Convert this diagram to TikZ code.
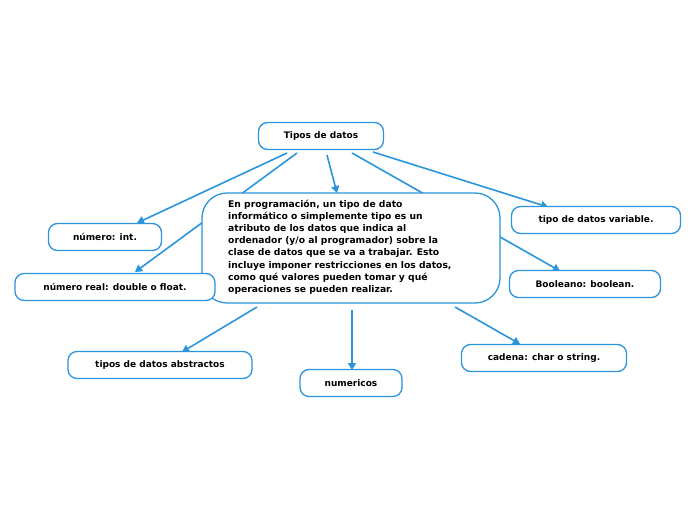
\documentclass[tikz,border=0pt]{standalone}
\usepackage{fontspec}
\setmainfont{DejaVu Sans}
\usetikzlibrary{arrows.meta}
\definecolor{bl}{HTML}{2A95DC}
\begin{document}
\begin{tikzpicture}[x=1pt,y=-1pt,
  box/.style={draw=bl,line width=1.3pt,fill=white,rounded corners=9pt,font=\bfseries\fontsize{9}{11}\selectfont,inner sep=0pt},
  con/.style={draw=bl,line width=1.6pt,-{Triangle[length=7pt,width=8pt]}}]
\useasboundingbox (0,0) rectangle (696,520);
\coordinate (s1) at (287,153);
\coordinate (s2) at (297,153);
\coordinate (s3) at (327,155);
\coordinate (s4) at (352,153);
\coordinate (s5) at (373,152);
\coordinate (c1) at (257,307);
\coordinate (c2) at (352,310);
\coordinate (c3) at (455,307);
\coordinate (t1) at (137,223);
\coordinate (t2) at (135,272);
\coordinate (t3) at (337,193);
\coordinate (t4) at (560,271);
\coordinate (t5) at (548,207);
\coordinate (t6) at (182,352);
\coordinate (t7) at (352,370);
\coordinate (t8) at (520,344);
\draw[con] (s1) -- (t1);
\draw[con] (s2) -- (t2);
\draw[con] (s4) -- (t4);
\draw[con] (s5) -- (t5);
\node[box,minimum width=125pt,minimum height=27pt] (tipos) at (321,136) {Tipos de datos};
\node[box,minimum width=298pt,minimum height=110pt,rounded corners=25pt] (central) at (351,248) {};
\node[font=\bfseries\fontsize{9.2}{12.1}\selectfont,align=left,anchor=north west,inner sep=0pt] (ctext) at (228,200) {En programación, un tipo de dato\\informático o simplemente tipo es un\\atributo de los datos que indica al\\ordenador (y/o al programador) sobre la\\clase de datos que se va a trabajar. Esto\\incluye imponer restricciones en los datos,\\como qué valores pueden tomar y qué\\operaciones se pueden realizar.};
\draw[con] (s3) -- (t3);
\draw[con] (c1) -- (t6);
\draw[con] (c2) -- (t7);
\draw[con] (c3) -- (t8);
\node[box,minimum width=113pt,minimum height=27pt] (n1) at (105,237) {número: int.};
\node[box,minimum width=200pt,minimum height=27pt] (n2) at (115,287) {número real: double o float.};
\node[box,minimum width=184pt,minimum height=27pt] (n3) at (160,365) {tipos de datos abstractos};
\node[box,minimum width=102pt,minimum height=27pt] (n4) at (351,383) {numericos};
\node[box,minimum width=165pt,minimum height=27pt] (n5) at (544,358) {cadena: char o string.};
\node[box,minimum width=151pt,minimum height=27pt] (n6) at (585,284) {Booleano: boolean.};
\node[box,minimum width=169pt,minimum height=27pt] (n7) at (596,220) {tipo de datos variable.};
\end{tikzpicture}
\end{document}
